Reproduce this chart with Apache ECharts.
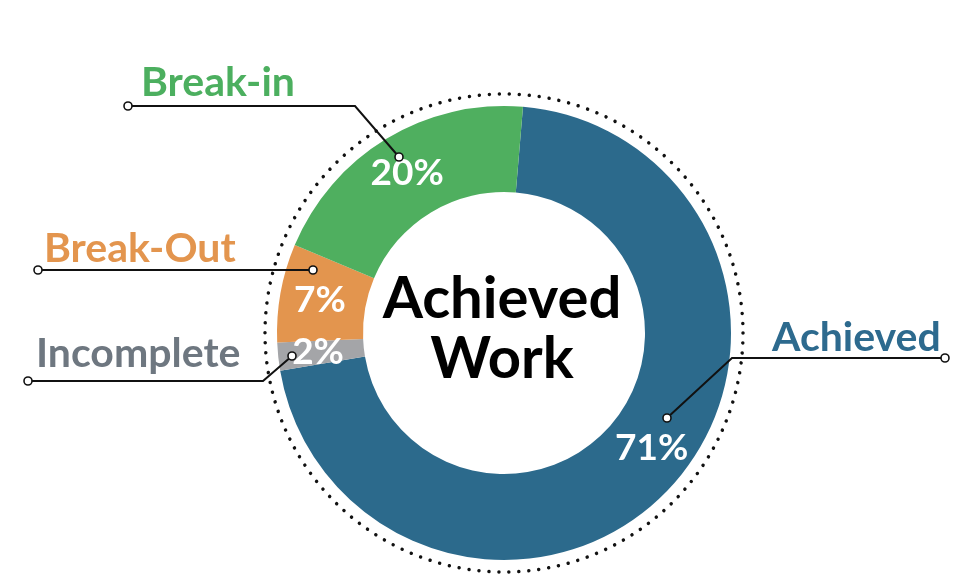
<!DOCTYPE html>
<html>
<head>
<meta charset="utf-8">
<script src="https://cdn.jsdelivr.net/npm/echarts@6/dist/echarts.min.js"></script>
<style>
html,body{margin:0;padding:0;background:#fff;}
#chart{width:980px;height:578px;}
</style>
</head>
<body>
<div id="chart"></div>
<script>
// ---- data ----
const categories = ['Achieved', 'Incomplete', 'Break-Out', 'Break-in'];
const values = [71, 2, 7, 20];
const centerTitle = 'Achieved\nWork';

// ---- styles / layout ----
const sliceColors = ['#2C6A8C', '#A4A5A8', '#E3954E', '#4FAF5F'];
const labelColors = ['#2D6A8E', '#6E7780', '#E3954E', '#4CAF5F'];
const CX = 504, CY = 333;
const R_IN = 141, R_OUT = 227, R_DOT = 239;
const FONT = 'Lato';
// leader geometry, px offsets from the pie centre
const leaderLayout = [
  { start: [163, 85],   elbow: [228, 25],   end: [441, 25],   text: [268, 5] },
  { start: [-212, 23],  elbow: [-241, 48],  end: [-476, 48],  text: [-468, 21] },
  { start: [-191, -63], elbow: [-191, -63], end: [-466, -63], text: [-460, -84] },
  { start: [-105, -176],elbow: [-149, -227],end: [-376, -227],text: [-363, -250] }
];

const chart = echarts.init(document.getElementById('chart'), null, { renderer: 'canvas' });

const pieData = categories.map((n, i) => ({ name: n, value: values[i], itemStyle: { color: sliceColors[i] } }));
const labelData = categories.map((n, i) => ({ name: n, value: values[i], label: { color: labelColors[i] } }));

const P = (o) => [CX + o[0], CY + o[1]];

const graphics = [];
leaderLayout.forEach(l => {
  [l.start, l.end].forEach(p => {
    graphics.push({
      type: 'circle', z: 100,
      shape: { cx: CX + p[0], cy: CY + p[1], r: 4 },
      style: { fill: '#fff', stroke: '#111', lineWidth: 1.6 }
    });
  });
});
graphics.push({
  type: 'text', z: 100,
  x: CX - 2, y: CY - 4,
  style: {
    text: centerTitle, fill: '#000',
    fontFamily: FONT, fontWeight: 'bold', fontSize: 58, lineHeight: 60,
    align: 'center', verticalAlign: 'middle'
  }
});

chart.setOption({
  animation: false,
  backgroundColor: '#fff',
  polar: { center: [CX, CY], radius: R_DOT },
  angleAxis: {
    type: 'value', min: 0, max: 360,
    axisLine: { show: true, lineStyle: { color: '#111', width: 3.5, type: [0.01, 10], cap: 'round' } },
    axisTick: { show: false }, axisLabel: { show: false }, splitLine: { show: false }
  },
  radiusAxis: { type: 'value', show: false, axisLine: { show: false }, splitLine: { show: false } },
  series: [
    {
      type: 'pie',
      center: [CX, CY],
      radius: [R_IN, R_OUT],
      startAngle: 85.2,
      clockwise: true,
      avoidLabelOverlap: false,
      silent: true,
      label: {
        show: true, position: 'inside', formatter: '{c}%',
        color: '#fff', fontFamily: FONT, fontWeight: 'bold', fontSize: 37
      },
      labelLayout: (p) => p.dataIndex === 0 ? { dx: 10, dy: -12 } : {},
      labelLine: { show: false },
      data: pieData
    },
    {
      type: 'pie',
      center: [CX, CY],
      radius: [R_IN, R_OUT],
      startAngle: 85.2,
      clockwise: true,
      avoidLabelOverlap: false,
      silent: true,
      z: 5,
      itemStyle: { color: 'rgba(0,0,0,0)' },
      label: {
        show: true, position: 'outside', formatter: '{b}',
        fontFamily: FONT, fontWeight: 'bold', fontSize: 41
      },
      labelLine: { show: true, length: 20, length2: 20, lineStyle: { color: '#111', width: 2 } },
      labelLayout: (p) => {
        const l = leaderLayout[p.dataIndex];
        const t = P(l.text);
        return {
          x: t[0], y: t[1], align: 'left', verticalAlign: 'middle',
          labelLinePoints: [P(l.start), P(l.elbow), P(l.end)]
        };
      },
      data: labelData
    }
  ],
  graphic: graphics
});
</script>
</body>
</html>
